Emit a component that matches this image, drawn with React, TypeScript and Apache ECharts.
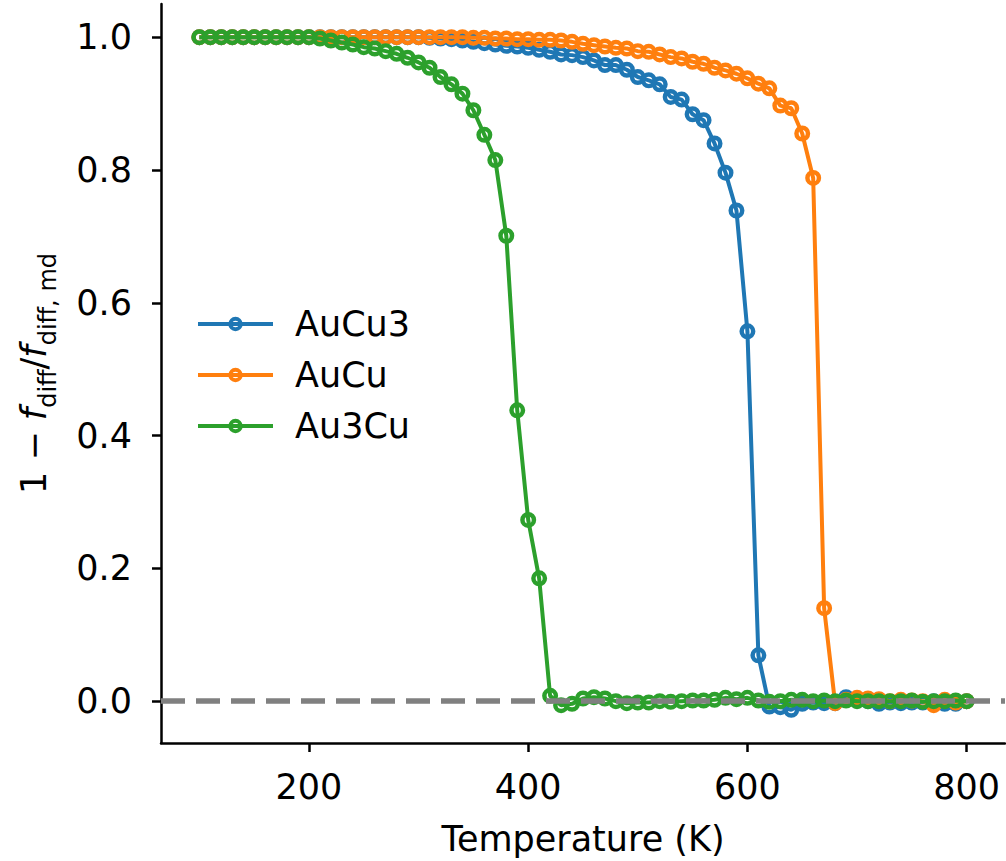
import React, { useEffect, useRef } from "react";
import * as echarts from "echarts";

const temperatures = [
  100, 110, 120, 130, 140, 150, 160, 170, 180, 190,
  200, 210, 220, 230, 240, 250, 260, 270, 280, 290,
  300, 310, 320, 330, 340, 350, 360, 370, 380, 390,
  400, 410, 420, 430, 440, 450, 460, 470, 480, 490,
  500, 510, 520, 530, 540, 550, 560, 570, 580, 590,
  600, 610, 620, 630, 640, 650, 660, 670, 680, 690,
  700, 710, 720, 730, 740, 750, 760, 770, 780, 790,
  800,
];

const auCu3 = [
  1.0, 1.0, 1.0, 1.0, 1.0, 1.0, 1.0, 1.0, 1.0, 1.0,
  1.0, 1.0, 1.0, 1.0, 1.0, 1.0, 1.0, 1.0, 1.0, 1.0,
  1.0, 0.999, 0.998, 0.997, 0.995, 0.993, 0.991, 0.989, 0.987, 0.986,
  0.984, 0.981, 0.978, 0.974, 0.973, 0.97, 0.965, 0.958, 0.958, 0.951,
  0.94, 0.935, 0.929, 0.91, 0.906, 0.884, 0.875, 0.84, 0.796, 0.739,
  0.557, 0.069, -0.008, -0.009, -0.013, -0.004, -0.002, -0.003, -0.003, 0.006,
  0.003, 0.0, -0.004, -0.002, -0.003, -0.002, -0.002, 0.0, -0.004, -0.004,
  0.0,
];

const auCu = [
  1.0, 1.0, 1.0, 1.0, 1.0, 1.0, 1.0, 1.0, 1.0, 1.0,
  1.0, 1.0, 1.0, 1.0, 1.0, 1.0, 1.0, 1.0, 1.0, 1.0,
  1.0, 1.0, 1.0, 1.0, 1.0, 0.999, 0.999, 0.998, 0.998, 0.997,
  0.997, 0.996, 0.996, 0.995, 0.993, 0.99, 0.988, 0.986, 0.984, 0.983,
  0.979, 0.978, 0.974, 0.97, 0.968, 0.963, 0.96, 0.954, 0.95, 0.945,
  0.938, 0.93, 0.923, 0.897, 0.893, 0.855, 0.788, 0.14, -0.003, 0.002,
  0.005, 0.004, 0.003, 0.0, 0.002, 0.001, 0.0, -0.006, 0.002, -0.002,
  0.0,
];

const au3Cu = [
  1.0, 1.0, 1.0, 1.0, 1.0, 1.0, 1.0, 1.0, 1.0, 1.0,
  1.0, 0.998, 0.995, 0.992, 0.989, 0.985, 0.983, 0.979, 0.975, 0.969,
  0.962, 0.954, 0.94, 0.929, 0.915, 0.89, 0.853, 0.815, 0.701, 0.438,
  0.273, 0.185, 0.008, -0.006, -0.004, 0.004, 0.006, 0.004, 0.0, -0.003,
  -0.002, -0.002, 0.0, -0.001, 0.0, 0.001, 0.001, 0.002, 0.005, 0.003,
  0.005, 0.001, -0.001, 0.0, 0.002, 0.002, 0.0, 0.001, 0.0, 0.001,
  0.0, 0.0, 0.0, 0.0, 0.0, 0.001, -0.001, 0.0, 0.0, 0.001,
  0.0,
];

const seriesNames = ["AuCu3", "AuCu", "Au3Cu"];
const seriesValues = [auCu3, auCu, au3Cu];
const seriesColors = ["#1f77b4", "#ff7f0e", "#2ca02c"];

const xTicks = [200, 400, 600, 800];
const yTicks = [0.0, 0.2, 0.4, 0.6, 0.8, 1.0];
const xRange = [65, 835];
const yRange = [-0.063, 1.05];
const referenceLineValue = 0;

const FONT = "DejaVu Sans";

// hollow ring marker (transparent centre, like matplotlib markerfacecolor="none")
const RING =
  "path://M0,-10A10,10 0 1,1 0,10A10,10 0 1,1 0,-10Z" +
  "M0,-4.4A4.4,4.4 0 1,0 0,4.4A4.4,4.4 0 1,0 0,-4.4Z";

export default function App() {
  const ref = useRef<HTMLDivElement>(null);

  useEffect(() => {
    if (!ref.current) return;
    const chart = echarts.init(ref.current, undefined, { renderer: "svg" });

    const series: any[] = seriesNames.map((name, i) => ({
      name,
      type: "line",
      data: temperatures.map((t, j) => [t, seriesValues[i][j]]),
      symbol: RING,
      symbolSize: 16,
      symbolKeepAspect: true,
      showAllSymbol: true,
      color: seriesColors[i],
      lineStyle: { width: 4, color: seriesColors[i] },
      itemStyle: { color: seriesColors[i], borderWidth: 0 },
      z: 2 + i,
      emphasis: { disabled: true },
    }));
    series[2].markLine = {
      silent: true,
      symbol: "none",
      label: { show: false },
      lineStyle: { color: "#808080", width: 5.5, type: [24, 11] },
      data: [{ yAxis: referenceLineValue }],
      z: 10,
    };

    chart.setOption({
      animation: false,
      backgroundColor: "#ffffff",
      textStyle: { fontFamily: FONT },
      grid: { left: 161, right: 1, top: 4, bottom: 118, containLabel: false },
      legend: {
        data: seriesNames,
        orient: "vertical",
        left: 191,
        top: 299,
        itemWidth: 75,
        itemHeight: 18,
        itemGap: 11,
        lineStyle: { width: 4 },
        itemStyle: { borderWidth: 0 },
        textStyle: {
          fontFamily: FONT,
          fontSize: 35,
          lineHeight: 40,
          color: "#000000",
          padding: [0, 0, 0, 17],
        },
      },
      xAxis: {
        type: "value",
        min: xRange[0],
        max: xRange[1],
        name: "Temperature (K)",
        nameLocation: "middle",
        nameGap: 78,
        nameTextStyle: { fontFamily: FONT, fontSize: 35, color: "#000000" },
        axisLine: { show: true, onZero: false, lineStyle: { color: "#000000", width: 2.5 } },
        axisTick: {
          show: true,
          length: 9,
          lineStyle: { color: "#000000", width: 2.5 },
          customValues: xTicks,
        },
        axisLabel: {
          fontFamily: FONT,
          fontSize: 35,
          color: "#000000",
          margin: 26,
          customValues: xTicks,
          formatter: (v: number) => String(v),
        },
        splitLine: { show: false },
      },
      yAxis: {
        type: "value",
        min: yRange[0],
        max: yRange[1],
        name: "{n|1 − }{i|f}{s|diff}{n|/}{i|f}{s|diff, md}",
        nameLocation: "middle",
        nameRotate: 90,
        nameGap: 105,
        nameTextStyle: {
          color: "#000000",
          rich: {
            n: { fontFamily: FONT, fontSize: 35, lineHeight: 40, verticalAlign: "top", color: "#000" },
            i: {
              fontFamily: FONT,
              fontSize: 35,
              fontStyle: "italic",
              lineHeight: 40,
              verticalAlign: "top",
              color: "#000",
            },
            s: {
              fontFamily: FONT,
              fontSize: 24,
              lineHeight: 26,
              padding: [20, 0, 0, 0],
              verticalAlign: "top",
              color: "#000",
            },
          },
        },
        axisLine: { show: true, onZero: false, lineStyle: { color: "#000000", width: 2.5 } },
        axisTick: {
          show: true,
          length: 9,
          lineStyle: { color: "#000000", width: 2.5 },
          customValues: yTicks,
        },
        axisLabel: {
          fontFamily: FONT,
          fontSize: 35,
          color: "#000000",
          margin: 29,
          customValues: yTicks,
          formatter: (v: number) => v.toFixed(1),
        },
        splitLine: { show: false },
      },
      series,
    });

    return () => chart.dispose();
  }, []);

  return (
    <div
      ref={ref}
      style={{ position: "fixed", left: 0, top: 0, width: 1006, height: 861, background: "#fff" }}
    />
  );
}
